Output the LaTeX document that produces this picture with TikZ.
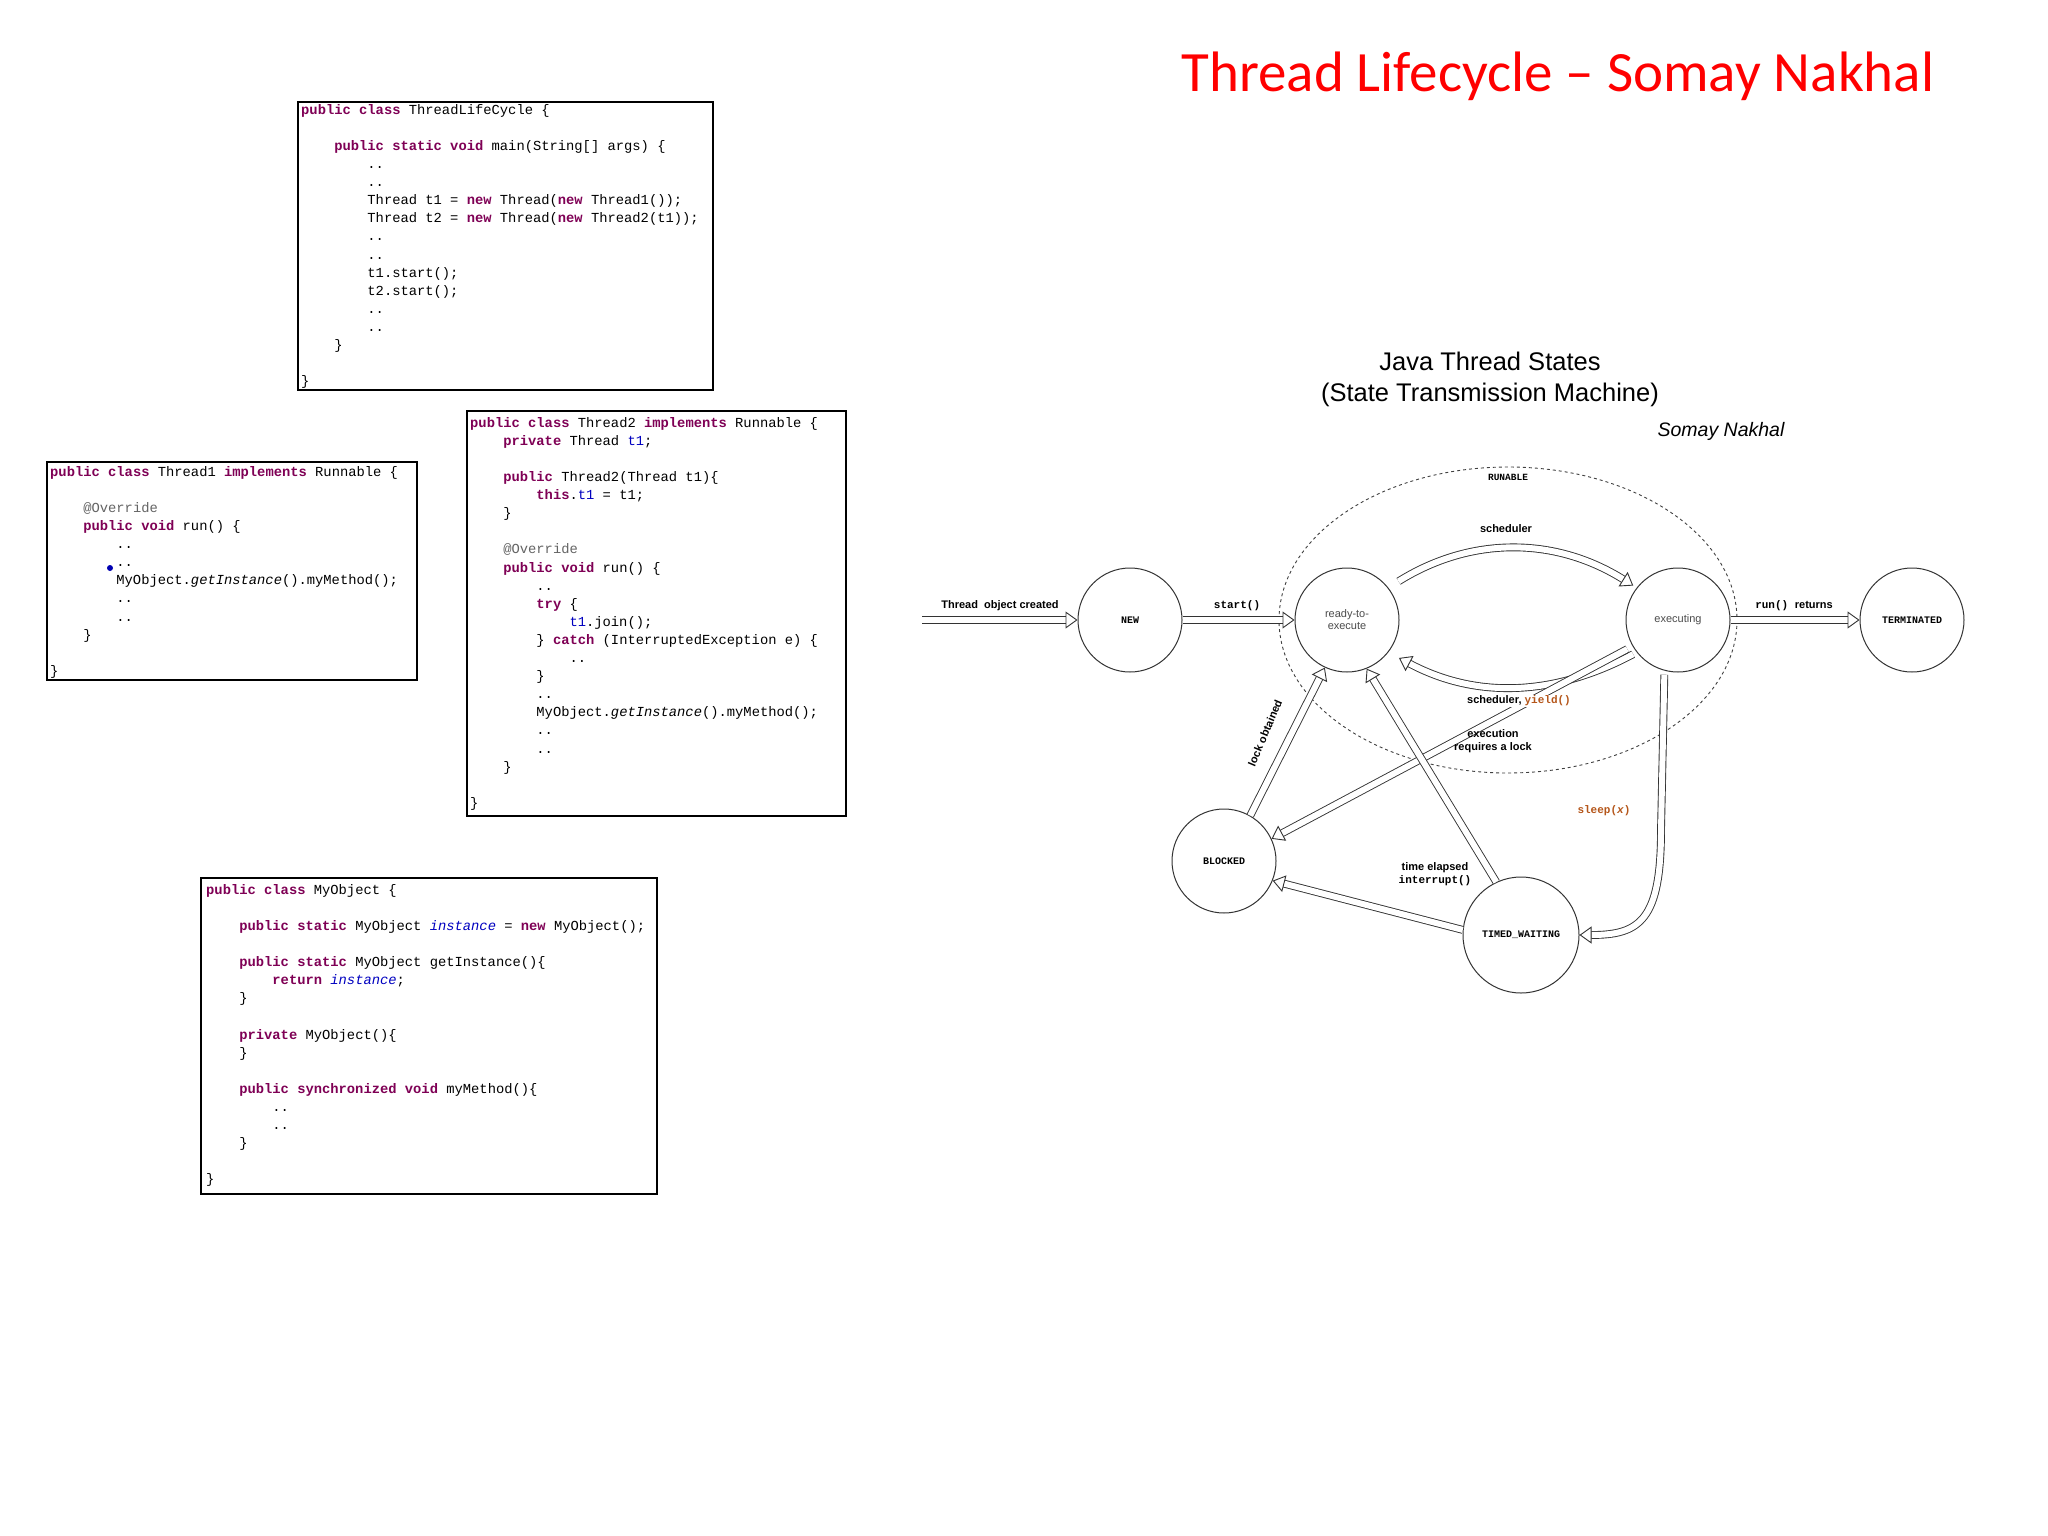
\documentclass[tikz,border=0pt]{standalone}
\usepackage{fontspec}
\setmainfont{Liberation Sans}
\setmonofont{Liberation Mono}
\newfontfamily\calib{Carlito}
\usetikzlibrary{arrows.meta,shapes.geometric}
\definecolor{kw}{HTML}{7F0055}
\definecolor{fld}{HTML}{0000C0}
\definecolor{ann}{HTML}{646464}
\definecolor{org}{HTML}{B5561A}
\newcommand\kw[1]{{\color{kw}\bfseries #1}}
\newcommand\fl[1]{{\color{fld}#1}}
\newcommand\ii[1]{\hspace*{#1\dimexpr 2.4em\relax}}
\tikzset{
  codebox/.style={draw=black,line width=1.3pt},
  code/.style={anchor=north west,inner sep=0pt,align=left,font=\ttfamily\fontsize{13.8}{18.1}\selectfont},
  st/.style={circle,draw=black!80,line width=1pt,minimum size=104pt,inner sep=0pt},
  lbl/.style={font=\bfseries\fontsize{11}{13}\selectfont},
  dbl/.style={double=white,double distance=6pt,line width=0.9pt,draw=black!80,-{Triangle[open,length=12pt,width=17pt]}}
}
\begin{document}
\begin{tikzpicture}[x=1pt,y=-1pt]
\useasboundingbox (0,0) rectangle (2048,1536);
\fill[white] (0,0) rectangle (2048,1536);
% code boxes
\draw[codebox] (298,102) rectangle (713,390);
\node[code] (c1) at (301,104) {\kw{public class} ThreadLifeCycle \{\\ \mbox{}\\
\ii1\kw{public static void} main(String[] args) \{\\
\ii2..\\ \ii2..\\
\ii2Thread t1 = \kw{new} Thread(\kw{new} Thread1());\\
\ii2Thread t2 = \kw{new} Thread(\kw{new} Thread2(t1));\\
\ii2..\\ \ii2..\\
\ii2t1.start();\\ \ii2t2.start();\\
\ii2..\\ \ii2..\\
\ii1\}\\ \mbox{}\\ \}};
\draw[codebox] (47,462) rectangle (417,680);
\node[code] (c2) at (50,466) {\kw{public class} Thread1 \kw{implements} Runnable \{\\ \mbox{}\\
\ii1{\color{ann}@Override}\\
\ii1\kw{public void} run() \{\\
\ii2..\\ \ii2..\\
\ii2MyObject.\textit{getInstance}().myMethod();\\
\ii2..\\ \ii2..\\
\ii1\}\\ \mbox{}\\ \}};
\fill[blue!70!black] (110,568) circle (3pt);
\draw[codebox] (467,411) rectangle (846,816);
\node[code] (c3) at (470,417) {\kw{public class} Thread2 \kw{implements} Runnable \{\\
\ii1\kw{private} Thread \fl{t1};\\ \mbox{}\\
\ii1\kw{public} Thread2(Thread t1)\{\\
\ii2\kw{this}.\fl{t1} = t1;\\
\ii1\}\\ \mbox{}\\
\ii1{\color{ann}@Override}\\
\ii1\kw{public void} run() \{\\
\ii2..\\
\ii2\kw{try} \{\\
\ii3\fl{t1}.join();\\
\ii2\} \kw{catch} (InterruptedException e) \{\\
\ii3..\\
\ii2\}\\ \ii2..\\
\ii2MyObject.\textit{getInstance}().myMethod();\\
\ii2..\\ \ii2..\\
\ii1\}\\ \mbox{}\\ \}};
\draw[codebox] (201,878) rectangle (657,1194);
\node[code] (c4) at (206,884) {\kw{public class} MyObject \{\\ \mbox{}\\
\ii1\kw{public static} MyObject \fl{\textit{instance}} = \kw{new} MyObject();\\ \mbox{}\\
\ii1\kw{public static} MyObject getInstance()\{\\
\ii2\kw{return} \fl{\textit{instance}};\\
\ii1\}\\ \mbox{}\\
\ii1\kw{private} MyObject()\{\\
\ii1\}\\ \mbox{}\\
\ii1\kw{public synchronized void} myMethod()\{\\
\ii2..\\ \ii2..\\
\ii1\}\\ \mbox{}\\ \}};
% title
\node[text=red,font=\calib\fontsize{57}{64}\selectfont] (title) at (1558,76) {Thread Lifecycle – Somay Nakhal};
\node[font=\fontsize{25.5}{31}\selectfont,align=center] (ht) at (1490,379) {Java Thread States\\(State Transmission Machine)};
\node[font=\itshape\fontsize{19.5}{22}\selectfont] (au) at (1721,431) {Somay Nakhal};
% diagram
\draw[dashed,line width=0.9pt,black!75] (1508,620) ellipse (229 and 153);
\node[font=\ttfamily\bfseries\fontsize{9.5}{11}\selectfont] (run) at (1508,477) {RUNABLE};
\node[st,font=\ttfamily\bfseries\fontsize{10}{12}\selectfont] (new) at (1130,620) {NEW};
\node[st,font=\fontsize{11}{12}\selectfont,align=center,text=black!70] (rd) at (1347,620) {ready-to-\\execute};
\node[st,font=\fontsize{11}{12}\selectfont,text=black!70] (ex) at (1678,620) {executing};
\node[st,font=\ttfamily\bfseries\fontsize{10}{12}\selectfont] (te) at (1912,620) {TERMINATED};
\node[st,font=\ttfamily\bfseries\fontsize{10}{12}\selectfont] (bl) at (1224,861) {BLOCKED};
\node[st,minimum size=116pt,font=\ttfamily\bfseries\fontsize{10}{12}\selectfont] (tw) at (1521,935) {TIMED\_WAITING};
\coordinate (src) at (922,620);
\draw[dbl] (src) -- (new);
\draw[dbl] (new) -- (rd);
\draw[dbl] (ex) -- (te);
\draw[dbl,shorten <=12pt,shorten >=4pt] (rd.38) to[bend left=32] (ex.142);
\draw[dbl,shorten <=4pt,shorten >=12pt] (ex.-142) to[bend left=28] (rd.-38);
\draw[dbl,shorten <=6pt] (ex.-150) -- (bl.25);
\draw[dbl] (bl.60) -- (rd.-115);
\draw[dbl] (tw.115) -- (rd.-68);
\draw[dbl] (tw.175) -- (bl.-22);
\draw[dbl,shorten <=4pt] (ex.-105) -- (1661,830) .. controls (1661,920) and (1640,935) .. (tw.east);
% labels
\node[lbl] at (1000,606) {Thread\ \ object created};
\node[font=\ttfamily\bfseries\fontsize{11}{13}\selectfont] at (1237,606) {start()};
\node[lbl] at (1794,606) {\ttfamily run()\ \normalfont\bfseries returns};
\node[lbl] at (1506,529) {scheduler};
\node[lbl,fill=white,inner sep=1pt] at (1519,701) {scheduler, \textcolor{org}{\ttfamily yield()}};
\node[lbl,align=center] at (1493,741) {execution\\requires a lock};
\node[lbl,rotate=67] at (1265,733) {lock obtained};
\node[font=\ttfamily\bfseries\fontsize{11}{13}\selectfont,text=org] at (1604,811) {sleep(\textit{x})};
\node[lbl,align=center] at (1435,874) {time elapsed\\{\ttfamily interrupt()}};
\end{tikzpicture}
\end{document}
